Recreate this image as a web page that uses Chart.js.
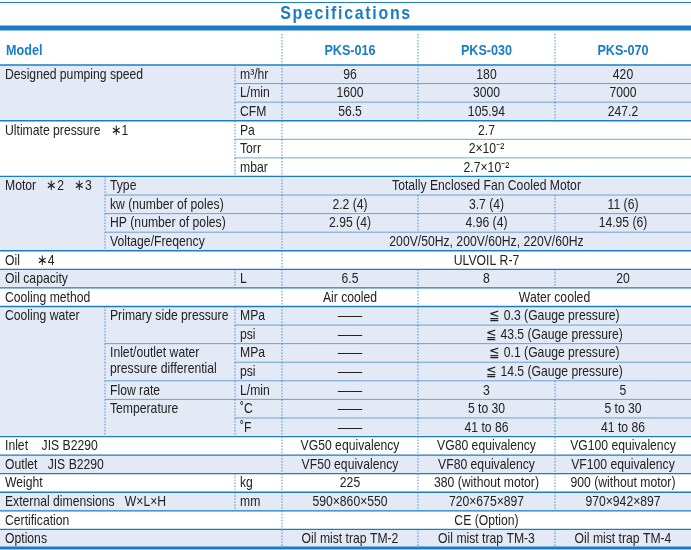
<!DOCTYPE html>
<html><head><meta charset="utf-8">
<script src="https://cdn.jsdelivr.net/npm/chart.js@4"></script>
<style>html,body{margin:0;padding:0;background:#fff}#wrap{width:691px;height:550px}</style>
</head><body><div id="wrap"><canvas id="c"></canvas></div>
<script>
// table content
const title = 'Specifications';
const models = ['PKS-016', 'PKS-030', 'PKS-070'];
const rowLabels = ['Designed pumping speed','','','Ultimate pressure   \u22171','','','Motor   \u22172   \u22173','','','','Oil     \u22174','Oil capacity','Cooling method','Cooling water','','','','','','','Inlet    JIS B2290','Outlet   JIS B2290','Weight','External dimensions   W\u00d7L\u00d7H','Certification','Options'];
const subLabels = ['','','','','','','Type','kw (number of poles)','HP (number of poles)','Voltage/Freqency','','','','Primary side pressure','','Inlet/outlet water\npressure differential','','Flow rate','Temperature','','','','','','',''];
const units = ['m\u00b3/hr','L/min','CFM','Pa','Torr','mbar','','','','','','L','','MPa','psi','MPa','psi','L/min','\u02daC','\u02daF','','','kg','mm','',''];
// each row: list of [text, span]
const values = [
  [['96',1],['180',1],['420',1]],
  [['1600',1],['3000',1],['7000',1]],
  [['56.5',1],['105.94',1],['247.2',1]],
  [['2.7',3]],
  [['2\u00d710\u207b\u00b2',3]],
  [['2.7\u00d710\u207b\u00b2',3]],
  [['Totally Enclosed Fan Cooled Motor',3]],
  [['2.2 (4)',1],['3.7 (4)',1],['11 (6)',1]],
  [['2.95 (4)',1],['4.96 (4)',1],['14.95 (6)',1]],
  [['200V/50Hz, 200V/60Hz, 220V/60Hz',3]],
  [['ULVOIL R-7',3]],
  [['6.5',1],['8',1],['20',1]],
  [['Air cooled',1],['Water cooled',2]],
  [['\u2014\u2014',1],['\u2266 0.3 (Gauge pressure)',2]],
  [['\u2014\u2014',1],['\u2266 43.5 (Gauge pressure)',2]],
  [['\u2014\u2014',1],['\u2266 0.1 (Gauge pressure)',2]],
  [['\u2014\u2014',1],['\u2266 14.5 (Gauge pressure)',2]],
  [['\u2014\u2014',1],['3',1],['5',1]],
  [['\u2014\u2014',1],['5 to 30',1],['5 to 30',1]],
  [['\u2014\u2014',1],['41 to 86',1],['41 to 86',1]],
  [['VG50 equivalency',1],['VG80 equivalency',1],['VG100 equivalency',1]],
  [['VF50 equivalency',1],['VF80 equivalency',1],['VF100 equivalency',1]],
  [['225',1],['380 (without motor)',1],['900 (without motor)',1]],
  [['590\u00d7860\u00d7550',1],['720\u00d7675\u00d7897',1],['970\u00d7942\u00d7897',1]],
  [['CE (Option)',3]],
  [['Oil mist trap TM-2',1],['Oil mist trap TM-3',1],['Oil mist trap TM-4',1]]
];
const groupStarts = [0,3,6,10,11,12,13,20,21,22,23,24,25];
const subGroupRows = [6,7,8,9,13,14,15,16,17,18,19];

// layout
const colX = [0, 105, 235, 282, 418, 555, 691];
const top0 = 65, bottom0 = 548;
const BLUE = '#1a7dc4', SHADE = '#e3eaf6', INK = '#222';
const FONT = '"Liberation Sans", Arial, sans-serif';
const SQUEEZE = 0.84;

const tablePlugin = {
  id: 'table',
  afterDraw(chart) {
    const ctx = chart.ctx, xs = chart.scales.x, ys = chart.scales.y;
    const X = v => xs.getPixelForValue(v), Y = v => ys.getPixelForValue(v);
    const n = rowLabels.length, rh = (bottom0 - top0) / n;
    const rowTop = i => top0 + i * rh;
    ctx.save();
    // shading
    groupStarts.forEach((g, k) => {
      const end = k + 1 < groupStarts.length ? groupStarts[k + 1] : n;
      if (k % 2 === 0) { ctx.fillStyle = SHADE; ctx.fillRect(X(0), Y(rowTop(g)), X(691) - X(0), Y(rowTop(end)) - Y(rowTop(g))); }
    });
    // title and rules
    ctx.fillStyle = BLUE; ctx.font = 'bold 19px ' + FONT; ctx.textBaseline = 'middle';
    if ('letterSpacing' in ctx) ctx.letterSpacing = '2px';
    text('Specifications', 346, 14, 'center');
    if ('letterSpacing' in ctx) ctx.letterSpacing = '0px';
    ctx.strokeStyle = BLUE;
    ctx.lineWidth = 1; line(0, 2.5, 691, 2.5);
    ctx.lineWidth = 5; line(0, 28, 691, 28);
    ctx.lineWidth = 1.3; line(0, top0, 691, top0);
    ctx.lineWidth = 3; line(0, bottom0, 691, bottom0);
    ctx.font = 'bold 15px ' + FONT;
    text('Model', 6, 51, 'left');
    models.forEach((m, i) => text(m, (colX[3 + i] + colX[4 + i]) / 2, 51, 'center'));
    // horizontal lines
    for (let i = 1; i < n; i++) {
      const y = rowTop(i);
      if (groupStarts.includes(i)) { ctx.strokeStyle = BLUE; ctx.lineWidth = 1.3; line(0, y, 691, y); }
      else {
        let sx = colX[3];
        if (units[i]) sx = colX[2];
        if (subLabels[i]) sx = colX[1];
        ctx.strokeStyle = '#4a8fd0'; ctx.lineWidth = 0.8; line(sx, y, 691, y);
      }
    }
    // vertical dotted lines
    ctx.setLineDash([1.5, 1.5]); ctx.strokeStyle = '#4a8fd0'; ctx.lineWidth = 1;
    line(colX[3], 34, colX[3], top0); line(colX[4], 34, colX[4], top0); line(colX[5], 34, colX[5], top0);
    for (let i = 0; i < n; i++) {
      const a = rowTop(i), b = rowTop(i + 1);
      line(colX[3], a, colX[3], b);
      if (units[i]) line(colX[2], a, colX[2], b);
      if (subGroupRows.includes(i)) line(colX[1], a, colX[1], b);
      let c = 0;
      values[i].forEach(([t, s], k) => { c += s; if (c < 3 && k < values[i].length - 1) line(colX[3 + c], a, colX[3 + c], b); });
    }
    ctx.setLineDash([]);
    // text
    ctx.fillStyle = INK; ctx.font = '14.5px ' + FONT;
    for (let i = 0; i < n; i++) {
      const cy = rowTop(i) + rh / 2 + 0.5;
      if (rowLabels[i]) text(rowLabels[i], 5, cy, 'left');
      if (subLabels[i]) subLabels[i].split('\n').forEach((s, k) => text(s, colX[1] + 5, cy + k * 16, 'left'));
      if (units[i]) text(units[i], colX[2] + 5, cy, 'left');
      let c = 0;
      values[i].forEach(([t, s]) => {
        text(t, (colX[3 + c] + colX[3 + c + s]) / 2, cy, 'center');
        c += s;
      });
    }
    ctx.restore();
    function line(x1, y1, x2, y2) { ctx.beginPath(); ctx.moveTo(X(x1), Y(y1)); ctx.lineTo(X(x2), Y(y2)); ctx.stroke(); }
    function text(t, x, y, align) {
      ctx.save(); ctx.textAlign = align; ctx.textBaseline = 'middle';
      ctx.translate(X(x), Y(y)); ctx.scale(SQUEEZE, 1); ctx.fillText(t, 0, 0); ctx.restore();
    }
  }
};

new Chart(document.getElementById('c'), {
  type: 'scatter',
  data: { datasets: [{ data: [] }] },
  options: {
    responsive: true, maintainAspectRatio: false, animation: false,
    layout: { padding: 0 },
    plugins: { legend: { display: false }, tooltip: { enabled: false } },
    scales: {
      x: { type: 'linear', min: 0, max: 691, display: false },
      y: { type: 'linear', min: 0, max: 550, reverse: true, display: false }
    }
  },
  plugins: [tablePlugin]
});
</script></body></html>
